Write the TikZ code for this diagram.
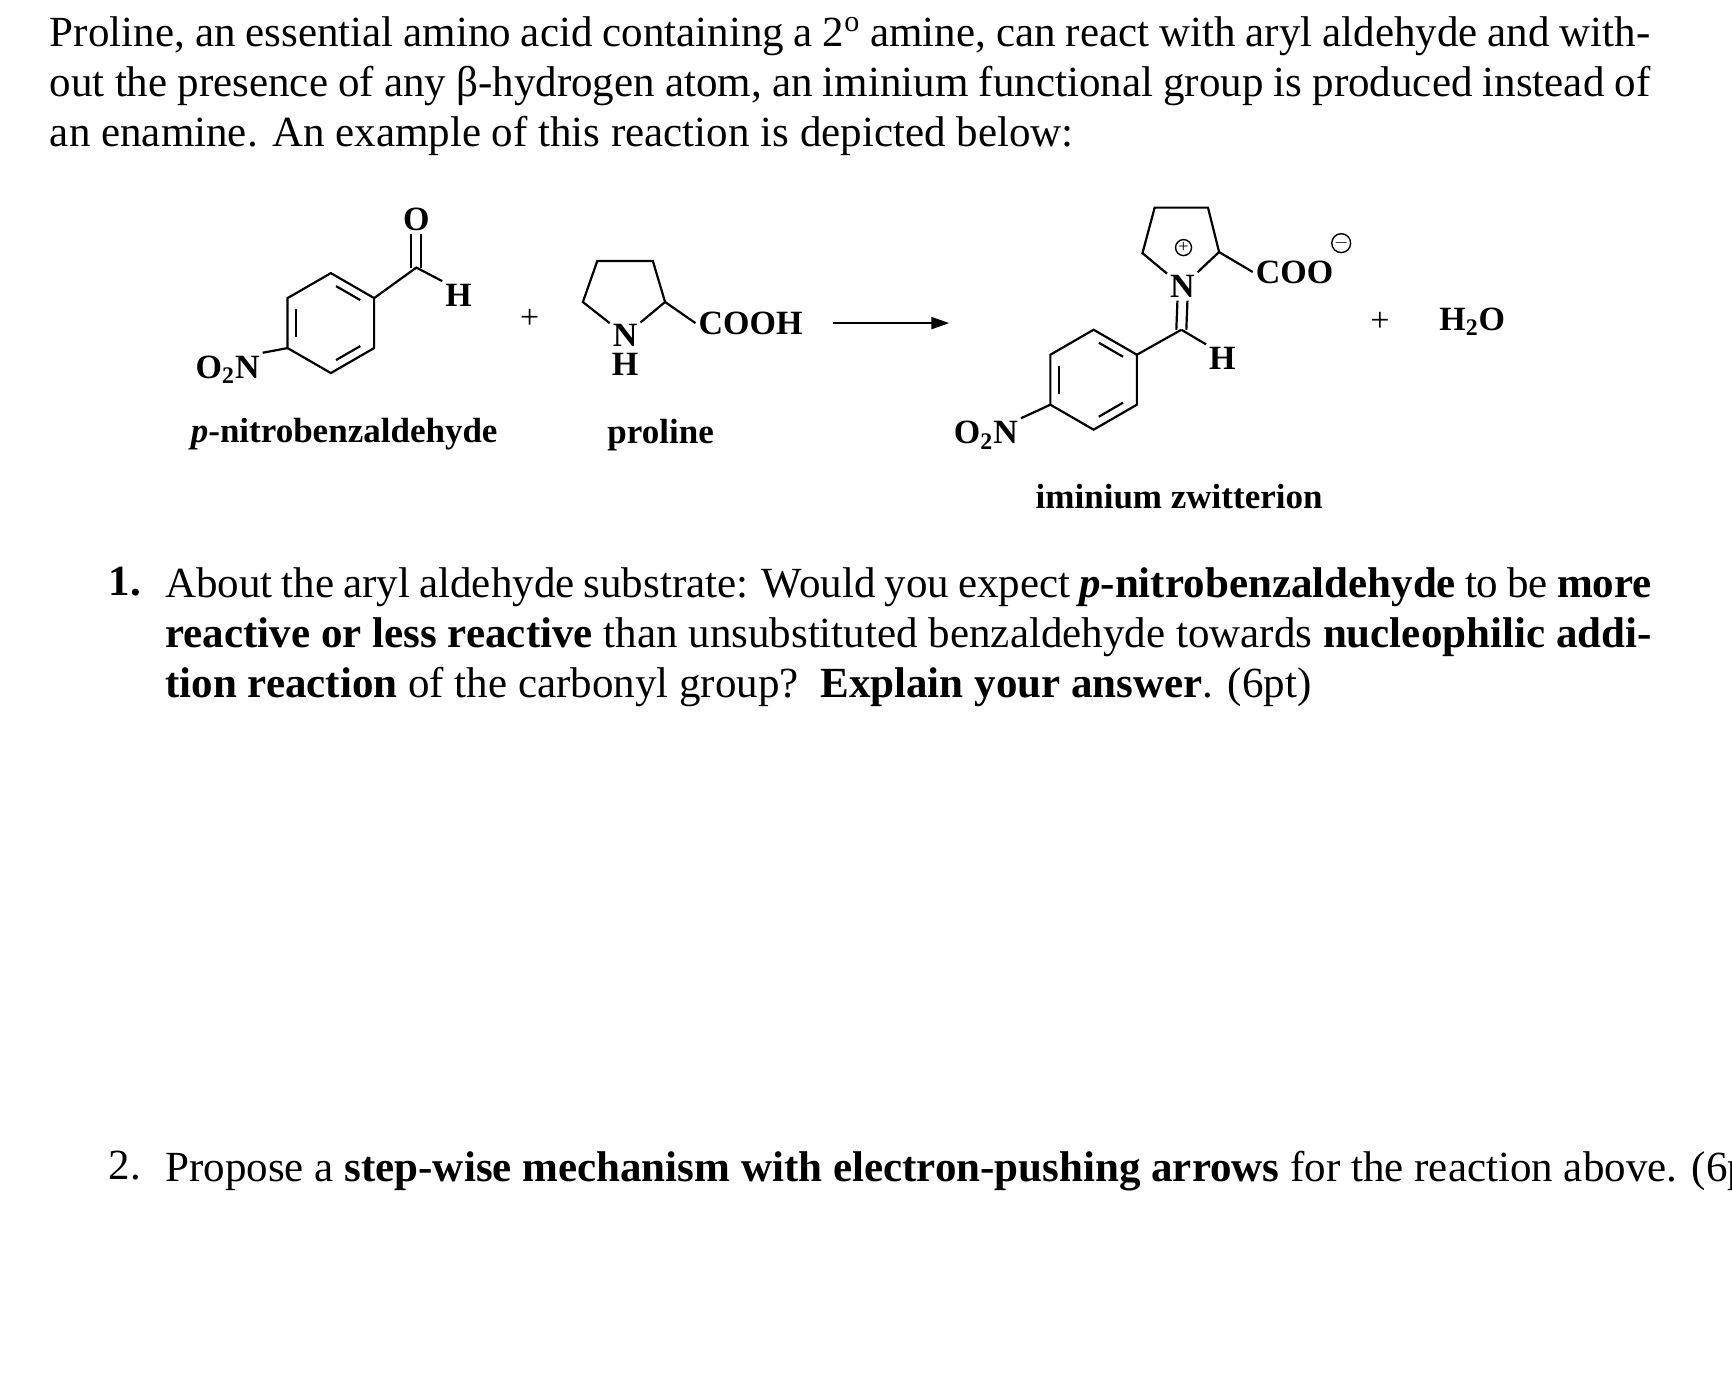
\documentclass[tikz,border=0pt]{standalone}
\usepackage{fontspec}
\setmainfont{Liberation Serif}
\usetikzlibrary{arrows.meta,calc}
\begin{document}
\begin{tikzpicture}[x=0.555pt,y=-0.555pt,line width=1.1pt,
  atom/.style={font=\fontsize{17}{19}\selectfont\bfseries,inner sep=1pt},
  lbl/.style={font=\fontsize{17.5}{20}\selectfont\bfseries},
  para/.style={anchor=north west,inner sep=0pt,align=justify,font=\fontsize{21.5}{25}\selectfont},
  chg/.style={circle,draw,line width=0.7pt,inner sep=0pt,minimum size=8pt,font=\fontsize{9}{9}\selectfont}]
\useasboundingbox (0,0) rectangle (1560,1254);
\node[para,text width=800pt] (intro) at (44,14) {Proline, an essential amino acid containing a 2\textsuperscript{o} amine, can react with aryl aldehyde and without the presence of any β-hydrogen atom, an iminium functional group is produced instead of an enamine. An example of this reaction is depicted below:};
% benzaldehyde
\coordinate (ac) at (298,291);
\foreach \i/\a in {1/90,2/30,3/-30,4/-90,5/-150,6/150}
  \coordinate (a\i) at ($(ac)+(\a:45 and -45)$);
\draw (a1)--(a2)--(a3)--(a4)--(a5)--(a6)--cycle;
\foreach \p/\q in {a1/a2,a3/a4,a5/a6}
  \draw ($(ac)!0.8!($(\p)!0.15!(\q)$)$)--($(ac)!0.8!($(\q)!0.15!(\p)$)$);
\coordinate (c1) at (375,241);
\node[atom] (o1) at (375,198) {O};
\node[atom] (h1) at (413,266) {H};
\node[atom] (n1) at (205,333) {O\textsubscript{2}N};
\draw (a2)--(c1)--(h1.north west);
\draw ([xshift=-2.5]c1)--([xshift=-2.5]o1.south);
\draw ([xshift=2.5]c1)--([xshift=2.5]o1.south);
\draw (a5)--(n1.north east);
\node[lbl] (l1) at (310,391) {\textit{p}-nitrobenzaldehyde};
\node[font=\fontsize{17}{19}\selectfont] (p1) at (477,287) {+};
% proline
\node[atom] (pn) at (563,302) {N};
\node[atom] (ph) at (563,328) {H};
\coordinate (pa) at (525,272);\coordinate (pb) at (538,235);
\coordinate (pc) at (588,235);\coordinate (pd) at (599,272);
\draw (pn)--(pa)--(pb)--(pc)--(pd)--(pn);
\node[atom] (cooh) at (676,291) {COOH};
\draw (pd)--(cooh.west);
\node[lbl] (l2) at (595,392) {proline};
\coordinate (r0) at (750,291);\coordinate (r1) at (855,291);
\draw[-{Triangle[length=9pt,width=6pt]}] (r0) -- (r1);
% product
\node[atom] (qn) at (1065,258) {N};
\coordinate (qa) at (1029,228);\coordinate (qb) at (1040,187);
\coordinate (qc) at (1088,187);\coordinate (qd) at (1098,227);
\draw (qn)--(qa)--(qb)--(qc)--(qd)--(qn);
\node[chg] (plus) at (1066,223) {+};
\node[atom] (coo) at (1166,245) {COO};
\node[chg] (minus) at (1208,219) {$-$};
\draw (qd)--(coo.west);
\coordinate (c2) at (1064,297);
\draw ([xshift=-2.5]qn.south)--([xshift=-2.5]c2);
\draw ([xshift=2.5]qn.south)--([xshift=2.5]c2);
\node[atom] (h2) at (1101,323) {H};
\draw (c2)--(h2.north west);
\coordinate (bc) at (985,342);
\foreach \i/\a in {1/90,2/30,3/-30,4/-90,5/-150,6/150}
  \coordinate (b\i) at ($(bc)+(\a:45 and -45)$);
\draw (b1)--(b2)--(b3)--(b4)--(b5)--(b6)--cycle;
\foreach \p/\q in {b1/b2,b3/b4,b5/b6}
  \draw ($(bc)!0.8!($(\p)!0.15!(\q)$)$)--($(bc)!0.8!($(\q)!0.15!(\p)$)$);
\draw (b2)--(c2);
\node[atom] (n2) at (888,392) {O\textsubscript{2}N};
\draw (b5)--(n2.north east);
\node[lbl] (l3) at (1062,447) {iminium zwitterion};
\node[font=\fontsize{17}{19}\selectfont] (p2) at (1243,290) {+};
\node[atom] (w) at (1326,290) {H\textsubscript{2}O};
% questions
\node[para,font=\fontsize{21.5}{25}\selectfont\bfseries] (q1n) at (97,510) {1.};
\node[para,text width=743pt] (q1) at (148,510) {About the aryl aldehyde substrate: Would you expect \textbf{\textit{p}-nitrobenzaldehyde} to be \textbf{more reactive or less reactive} than unsubstituted benzaldehyde towards \textbf{nucleophilic addition reaction} of the carbonyl group?\ \ \textbf{Explain your answer}. (6pt)};
\node[para] (q2n) at (97,1036) {2.};
\node[para] (q2) at (148,1036) {Propose a \textbf{step-wise mechanism with electron-pushing arrows} for the reaction above. (6pt)};
\end{tikzpicture}
\end{document}
